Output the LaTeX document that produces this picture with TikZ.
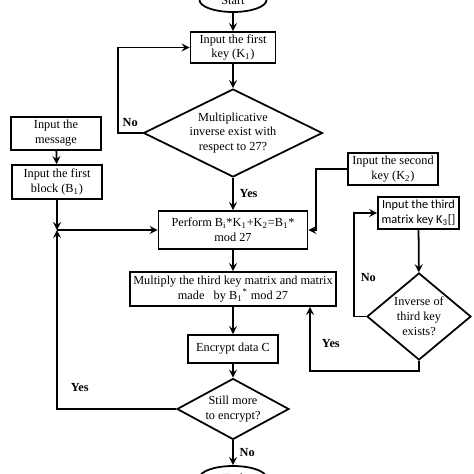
\documentclass[tikz,border=0pt]{standalone}
\usepackage{fontspec}
\setmainfont{Liberation Serif}
\newfontfamily\keyfont{Carlito}
\usetikzlibrary{shapes.geometric}

\begin{document}
\begin{tikzpicture}[x=0.02cm,y=-0.02cm,>=stealth,line width=1pt,
    every node/.style={font=\fontsize{7}{8.5}\selectfont},
    box/.style={draw,align=center,inner sep=0pt},
    decision/.style={draw,diamond,align=center,inner sep=0pt},
    term/.style={draw,ellipse,inner sep=0pt},
    lbl/.style={font=\fontsize{7}{8.5}\selectfont\bfseries}]
    \useasboundingbox (0,0) rectangle (474,474);
    \clip (0,0) rectangle (474,474);

    \node [term,minimum width=1.34cm,minimum height=0.48cm] (start) at (233,0) {Start};
    \node [box,minimum width=1.7cm,minimum height=0.62cm] (key1) at (233,47.5) {Input the first\\key (K\textsubscript{1})};
    \node [decision,shape aspect=2,minimum width=3.58cm,minimum height=1.76cm] (inv1) at (233,133) {Multiplicative\\inverse exist with\\respect to 27?};

    \node [box,minimum width=1.8cm,minimum height=0.66cm] (msg) at (56,133.5) {Input the\\message};
    \node [box,minimum width=1.8cm,minimum height=0.68cm] (blk) at (57,182) {Input the first\\block (B\textsubscript{1})};
    \coordinate (join) at (57,230);

    \node [box,minimum width=2.98cm,minimum height=0.76cm] (perf) at (233,230) {Perform B\textsubscript{i}*K\textsubscript{1}+K\textsubscript{2}=B\textsubscript{1}*\\mod 27};
    \node [box,minimum width=4.12cm,minimum height=0.68cm] (mult) at (233,289) {Multiply the third key matrix and matrix\\made\ \ \ by B\textsubscript{1}\textsuperscript{*} mod 27};
    \node [box,minimum width=1.8cm,minimum height=0.56cm] (enc) at (233,349) {Encrypt data C};
    \node [decision,shape aspect=1.8,minimum width=2.24cm,minimum height=1.22cm] (more) at (233,409) {Still more\\to encrypt?};
    \node [term,minimum width=1.34cm,minimum height=0.48cm] (end) at (233,478) {End};

    \node [box,minimum width=1.8cm,minimum height=0.64cm] (key2) at (393,169) {Input the second\\key (K\textsubscript{2})};
    \node [box,font=\keyfont\fontsize{7}{8.5}\selectfont,minimum width=1.62cm,minimum height=0.64cm] (key3) at (418.5,213) {Input the third\\matrix key K\textsubscript{3}[]};
    \node [decision,shape aspect=1.2,minimum width=2.08cm,minimum height=1.74cm] (inv3) at (419,316.5) {Inverse of\\third key\\exists?};
    \coordinate (back) at ([xshift=1.54cm]mult.south);

    \draw [arrows=->] (start) -- (key1);
    \draw [arrows=->] (key1) -- (inv1);
    \draw [arrows=->] (inv1) -- node[lbl,right] {Yes} (perf);
    \draw [arrows=->] (inv1.west) -- node[lbl,above] {No} ++(-25,0) |- (key1.west);

    \draw [arrows=->] (msg) -- (blk);
    \draw [arrows=->] (blk) -- (join);
    \draw [arrows=->] (join) -- (perf);
    \draw [arrows=->] (key2.west) -- ++(-31,0) |- (perf.east);

    \draw [arrows=->] (perf) -- (mult);
    \draw [arrows=->] (mult) -- (enc);
    \draw [arrows=->] (enc) -- (more);
    \draw [arrows=->] (more) -- node[lbl,right] {No} (end);
    \draw [arrows=->] (more.west) -| node[lbl,pos=0.56,right=4pt] {Yes} (join);

    \draw [arrows=->] (key3) -- (inv3);
    \draw [arrows=->] (inv3.west) -- ++(-12,0) |- node[lbl,pos=0.19,right] {No} (key3.west);
    \draw [arrows=->] (inv3.south) -- ++(0,10) -| node[lbl,pos=0.71,right=3pt] {Yes} (back);
\end{tikzpicture}
\end{document}
